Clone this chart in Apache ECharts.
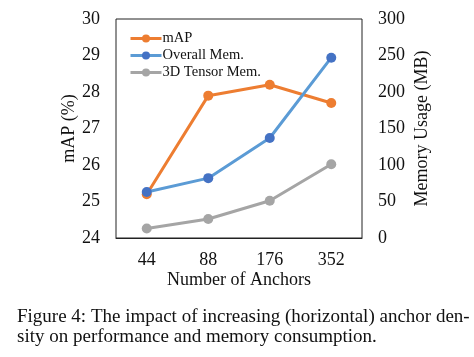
<!DOCTYPE html>
<html>
<head>
<meta charset="utf-8">
<script src="https://cdn.jsdelivr.net/npm/echarts@6/dist/echarts.min.js"></script>
<style>html,body{margin:0;padding:0;background:#fff;}#c{width:474px;height:357px;}</style>
</head>
<body>
<div id="c"></div>
<script>
const categories = ['44', '88', '176', '352'];
const mapValues = [25.2, 27.9, 28.2, 27.7];
const overallMem = [63, 82, 137, 247];
const tensorMem = [13, 26, 51, 101];
const seriesNames = ['mAP', 'Overall Mem.', '3D Tensor Mem.'];
const captionLines = ['Figure 4: The impact of increasing (horizontal) anchor den-', 'sity on performance and memory consumption.'];

const FONT = 'Liberation Serif';
const chart = echarts.init(document.getElementById('c'));
chart.setOption({
  animation: false,
  textStyle: { fontFamily: FONT },
  grid: { left: 116, right: 112, top: 19, bottom: 119, show: true, borderColor: '#222', borderWidth: 1, backgroundColor: 'transparent' },
  legend: {
    orient: 'vertical', left: 124, top: 26, itemWidth: 31, itemHeight: 10, itemGap: 2,
    lineStyle: { width: 3 },
    textStyle: { fontFamily: FONT, fontSize: 14.5, color: '#111', padding: [0, 0, 0, -4] },
    data: seriesNames
  },
  xAxis: {
    type: 'category', data: categories, boundaryGap: true,
    axisLine: { show: true, lineStyle: { color: '#222' } }, axisTick: { show: false },
    axisLabel: { fontFamily: FONT, fontSize: 18, color: '#111', margin: 13 },
    name: 'Number of Anchors', nameLocation: 'middle', nameGap: 33, nameMoveOverlap: false,
    nameTextStyle: { fontFamily: FONT, fontSize: 18, color: '#111' }
  },
  yAxis: [
    {
      type: 'value', min: 24, max: 30, interval: 1, position: 'left',
      splitLine: { show: false }, axisLine: { show: false }, axisTick: { show: false },
      axisLabel: { fontFamily: FONT, fontSize: 18, color: '#111', margin: 16 },
      name: 'mAP (%)', nameLocation: 'middle', nameGap: 38, nameMoveOverlap: false,
      nameTextStyle: { fontFamily: FONT, fontSize: 18, color: '#111' }
    },
    {
      type: 'value', min: 0, max: 300, interval: 50, position: 'right',
      splitLine: { show: false }, axisLine: { show: false }, axisTick: { show: false },
      axisLabel: { fontFamily: FONT, fontSize: 18, color: '#111', margin: 16 },
      name: 'Memory Usage (MB)', nameLocation: 'middle', nameGap: 51, nameRotate: 90, nameMoveOverlap: false,
      nameTextStyle: { fontFamily: FONT, fontSize: 18, color: '#111' }
    }
  ],
  series: [
    { name: seriesNames[0], type: 'line', yAxisIndex: 0, data: mapValues, symbol: 'circle', symbolSize: 10,
      lineStyle: { color: '#ED7D31', width: 3 }, itemStyle: { color: '#ED7D31' } },
    { name: seriesNames[1], type: 'line', yAxisIndex: 1, data: overallMem, symbol: 'circle', symbolSize: 10,
      lineStyle: { color: '#5B9BD5', width: 3 }, itemStyle: { color: '#4472C4' } },
    { name: seriesNames[2], type: 'line', yAxisIndex: 1, data: tensorMem, symbol: 'circle', symbolSize: 10,
      lineStyle: { color: '#A5A5A5', width: 3 }, itemStyle: { color: '#A5A5A5' } }
  ],
  graphic: [
    { type: 'text', left: 17, top: 308, style: { text: captionLines[0], font: '19px "Liberation Serif"', fill: '#111' } },
    { type: 'text', left: 17, top: 328, style: { text: captionLines[1], font: '19px "Liberation Serif"', fill: '#111' } }
  ]
});
</script>
</body>
</html>
